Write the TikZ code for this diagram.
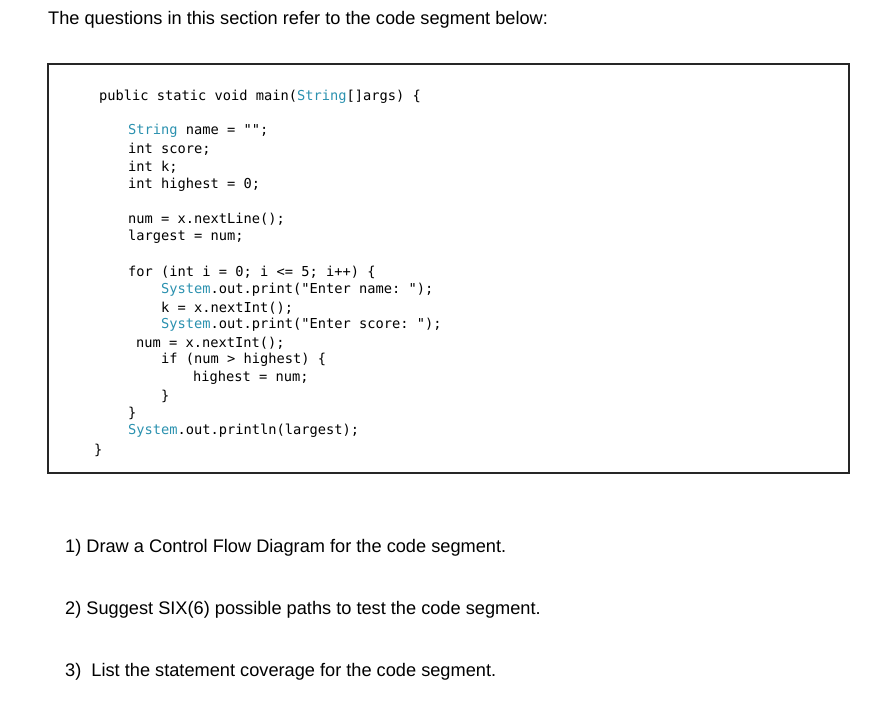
\documentclass[tikz,border=0pt]{standalone}
\usepackage{fontspec}
\setmainfont{Liberation Sans}
\setmonofont{DejaVu Sans Mono}
\definecolor{kw}{RGB}{43,145,175}
\begin{document}
\begin{tikzpicture}[x=1pt,y=-1pt,
  txt/.style={anchor=west,inner sep=0pt,font=\fontsize{18.2}{20}\selectfont},
  code/.style={anchor=west,inner sep=0pt,font=\ttfamily\fontsize{13.7}{16}\selectfont}]
\useasboundingbox (0,0) rectangle (886,717);
\node[txt] (title) at (48,20) {The questions in this section refer to the code segment below:};
\draw[line width=1.2pt,draw=black!85] (48,64) rectangle (849,473);
\node[code] (c1) at (99,97) {public static void main(\textcolor{kw}{String}[]args) \{};
\node[code] (c2) at (128,131) {\textcolor{kw}{String} name = "";};
\node[code] (c3) at (128,149) {int score;};
\node[code] (c4) at (128,167) {int k;};
\node[code] (c5) at (128,185) {int highest = 0;};
\node[code] (c6) at (128,219) {num = x.nextLine();};
\node[code] (c7) at (128,237) {largest = num;};
\node[code] (c8) at (128,272) {for (int i = 0; i <= 5; i++) \{};
\node[code] (c9) at (161,290) {\textcolor{kw}{System}.out.print("Enter name: ");};
\node[code] (c10) at (161,308) {k = x.nextInt();};
\node[code] (c11) at (161,325) {\textcolor{kw}{System}.out.print("Enter score: ");};
\node[code] (c12) at (136,343) {num = x.nextInt();};
\node[code] (c13) at (161,360) {if (num > highest) \{};
\node[code] (c14) at (193,378) {highest = num;};
\node[code] (c15) at (161,396) {\}};
\node[code] (c16) at (128,413) {\}};
\node[code] (c17) at (128,431) {\textcolor{kw}{System}.out.println(largest);};
\node[code] (c18) at (94,450) {\}};
\node[txt] (q1) at (65,548) {1) Draw a Control Flow Diagram for the code segment.};
\node[txt] (q2) at (65,610) {2) Suggest SIX(6) possible paths to test the code segment.};
\node[txt] (q3) at (65,672) {3)\ \ List the statement coverage for the code segment.};
\end{tikzpicture}
\end{document}
